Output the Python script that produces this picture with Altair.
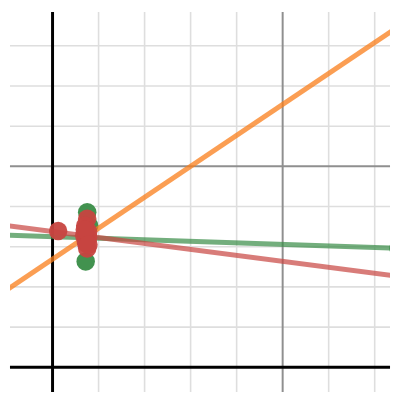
import altair as alt
import pandas as pd

# domain (data units, one minor grid square = 1 unit)
x_domain = [-0.925, 7.333]
y_domain = [-0.616, 8.842]

# grid lines
x_minor = [1, 2, 3, 4, 6, 7]
x_major = [5]
y_minor = [1, 2, 3, 4, 6, 7, 8]
y_major = [5]

# straight lines: values at left / right edge
line_x = [-1.097, 7.505]
orange_y = [1.847, 8.473]
green_y = [3.293, 2.963]
red_y = [3.539, 2.266]

# points
green_px = [0.753, 0.72, 0.796, 0.74, 7.52]
green_py = [3.855, 2.635, 3.52, 3.2, 2.963]
red_px = [0.122, 0.753, 0.71, 0.774, 0.688, 0.774, 0.731, 0.753, 0.72, 0.70, 0.78]
red_py = [3.39, 3.695, 3.52, 3.374, 3.28, 3.227, 3.079, 2.956, 3.15, 3.42, 3.05]

xs = alt.Scale(domain=x_domain, nice=False, zero=False)
ys = alt.Scale(domain=y_domain, nice=False, zero=False)


def vrules(vals, color, width):
    return alt.Chart(pd.DataFrame({"x": vals})).mark_rule(
        color=color, strokeWidth=width
    ).encode(x=alt.X("x:Q", scale=xs, axis=None))


def hrules(vals, color, width):
    return alt.Chart(pd.DataFrame({"y": vals})).mark_rule(
        color=color, strokeWidth=width
    ).encode(y=alt.Y("y:Q", scale=ys, axis=None))


def line(ys_vals, color, opacity):
    df = pd.DataFrame({"x": line_x, "y": ys_vals})
    return alt.Chart(df).mark_line(
        color=color, strokeWidth=5, opacity=opacity, clip=True
    ).encode(
        x=alt.X("x:Q", scale=xs, axis=None),
        y=alt.Y("y:Q", scale=ys, axis=None),
    )


def points(px, py, color):
    df = pd.DataFrame({"x": px, "y": py})
    return alt.Chart(df).mark_circle(
        color=color, size=350, opacity=0.95, clip=True
    ).encode(
        x=alt.X("x:Q", scale=xs, axis=None),
        y=alt.Y("y:Q", scale=ys, axis=None),
    )


chart = alt.layer(
    vrules(x_minor, "#dedede", 1.6),
    hrules(y_minor, "#dedede", 1.6),
    vrules(x_major, "#8f8f8f", 2),
    hrules(y_major, "#8f8f8f", 2),
    vrules([0], "#000000", 3),
    hrules([0], "#000000", 3),
    line(green_y, "#388c46", 0.7),
    points(green_px, green_py, "#388c46"),
    line(orange_y, "#fa7e19", 0.75),
    line(red_y, "#c74440", 0.7),
    points(red_px, red_py, "#c74440"),
).properties(
    width=384, height=384, padding=0, background="white"
).configure_view(stroke=None)

chart.save("out.html", embed_options={"renderer": "svg", "actions": False})
